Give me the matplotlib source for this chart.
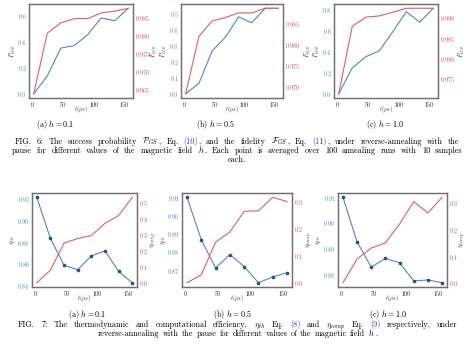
"""Reverse-annealing with pause: success probability / fidelity (FIG. 6)
and thermodynamic / computational efficiency (FIG. 7), three field values each.

Writes:
  out.png
"""
import matplotlib
matplotlib.use("Agg")
import matplotlib.pyplot as plt

plt.rcParams["font.family"] = ["cmr10", "DejaVu Serif"]
plt.rcParams["mathtext.fontset"] = "cm"
plt.rcParams["axes.formatter.use_mathtext"] = True

W, H = 474, 349

# ---------------------------------------------------------------------------
# data
# ---------------------------------------------------------------------------
t_us = [2, 24, 46, 68, 90, 112, 134, 156]
h_values = ["0.1", "0.5", "1.0"]

p_gs_h01 = [0.0, 0.136, 0.352, 0.371, 0.456, 0.584, 0.563, 0.659]
p_gs_h05 = [0.0, 0.064, 0.265, 0.350, 0.477, 0.440, 0.530, 0.530]
p_gs_h10 = [0.0, 0.244, 0.352, 0.408, 0.589, 0.780, 0.681, 0.813]

f_gs_h01 = [0.9637, 0.9807, 0.9836, 0.9848, 0.9848, 0.9864, 0.9869, 0.9877]
f_gs_h05 = [0.9683, 0.9819, 0.9856, 0.9864, 0.9875, 0.9875, 0.9886, 0.9886]
f_gs_h10 = [0.9712, 0.9879, 0.9902, 0.9905, 0.9914, 0.9924, 0.9924, 0.9924]

eta_th_h01 = [0.921, 0.8833, 0.8588, 0.8547, 0.8673, 0.8720, 0.8532, 0.8428]
eta_th_h05 = [0.910, 0.8867, 0.8711, 0.8785, 0.8719, 0.8630, 0.8662, 0.8685]
eta_th_h10 = [0.910, 0.8925, 0.8827, 0.8861, 0.8844, 0.8773, 0.8777, 0.8766]

eta_comp_h01 = [0.0, 0.078, 0.248, 0.276, 0.295, 0.371, 0.420, 0.534]
eta_comp_h05 = [0.0, 0.029, 0.150, 0.188, 0.264, 0.266, 0.316, 0.300]
eta_comp_h10 = [0.0, 0.089, 0.130, 0.149, 0.220, 0.304, 0.261, 0.320]

x_ticks = [0, 50, 100, 150]
p_ticks = [[0.0, 0.2, 0.4, 0.6], [0.0, 0.1, 0.2, 0.3, 0.4, 0.5], [0.0, 0.2, 0.4, 0.6, 0.8]]
f_ticks = [[0.965, 0.970, 0.975, 0.980, 0.985], [0.970, 0.975, 0.980, 0.985],
           [0.975, 0.980, 0.985, 0.990]]
th_ticks = [[0.84, 0.86, 0.88, 0.90, 0.92], [0.87, 0.88, 0.89, 0.90, 0.91],
            [0.88, 0.89, 0.90, 0.91]]
comp_ticks = [[0.0, 0.1, 0.2, 0.3, 0.4, 0.5], [0.0, 0.1, 0.2, 0.3], [0.0, 0.1, 0.2, 0.3]]

BLUE = "#5585c0"
BLUE_TXT = "#4f7fbd"
BLUE_MK = "#2d4f80"
RED = "#dc6064"
RED_TXT = "#d6494d"
LINK = "#3a3acf"
SPINE = "#707070"
TICK_FS = 4.3
LAB_FS = 5.0


def px_axes(fig, box):
    left, right, top, bottom = box
    return fig.add_axes([left / W, 1 - bottom / H, (right - left) / W, (bottom - top) / H])


def style_twin(fig, ax, ax2, box, yl, yr, lticks, rticks, lx, rx, xlab_y):
    left, right, top, bottom = box
    for a in (ax, ax2):
        for s in a.spines.values():
            s.set_color(SPINE)
            s.set_linewidth(0.9)
        a.tick_params(length=0, pad=1.6, labelsize=TICK_FS)
    ax.set_xticks(x_ticks)
    ax.tick_params(axis="x", colors="#222222")
    ax.set_yticks(lticks)
    ax.tick_params(axis="y", colors=BLUE_TXT)
    ax2.set_yticks(rticks)
    ax2.tick_params(axis="y", colors=RED_TXT)
    ymid = 1 - (top + bottom) / 2 / H
    fig.text((left + right) / 2 / W, 1 - xlab_y / H, r"$t(\mu s)$", fontsize=4.2,
             ha="center", va="center", color="#333333")
    fig.text(lx / W, ymid, yl, fontsize=LAB_FS, rotation=90,
             ha="center", va="center", color="#333333")
    fig.text(rx / W, ymid, yr, fontsize=LAB_FS, rotation=90,
             ha="center", va="center", color="#333333")


def draw_words(fig, words, y, x0, x1, size, justify=True):
    """Place a line of words (each a list of (text, colour) runs) between
    x0 and x1 pixels, stretching the gaps when justify is set."""
    r = fig.canvas.get_renderer()
    placed = []
    for word in words:
        runs = []
        for s, c in word:
            t = fig.text(0, 1 - y / H, s, color=c, fontsize=size, va="baseline")
            runs.append((t, t.get_window_extent(r).width + 0.4))
        placed.append(runs)
    widths = [sum(w for _, w in runs) for runs in placed]
    probe_a = fig.text(0, 0, "x x", fontsize=size)
    probe_b = fig.text(0, 0, "xx", fontsize=size)
    space = probe_a.get_window_extent(r).width - probe_b.get_window_extent(r).width
    probe_a.remove()
    probe_b.remove()
    if justify and len(placed) > 1:
        gap = (x1 - x0 - sum(widths)) / (len(placed) - 1)
        x = x0
    else:
        gap = space
        x = (x0 + x1) / 2 - (sum(widths) + gap * (len(placed) - 1)) / 2
    for runs, wd in zip(placed, widths):
        xr = x
        for t, w in runs:
            t.set_x(xr / W)
            xr += w
        x += wd + gap


def words_from(text, color="black"):
    return [[(w, color)] for w in text.split()]


fig = plt.figure(figsize=(W / 100, H / 100), dpi=100)

# ---------------------------------------------------------------------------
# FIG. 6 — P_GS (left axis) and F_GS (right axis)
# ---------------------------------------------------------------------------
top_boxes = [(29, 133, 4, 98), (181, 283, 4, 98), (334, 438, 4, 98)]
top_lab_x = [(13, 154), (164, 308), (317, 462)]
top_caps_x = [55, 215, 385]
p_series = [p_gs_h01, p_gs_h05, p_gs_h10]
f_series = [f_gs_h01, f_gs_h05, f_gs_h10]
for i, box in enumerate(top_boxes):
    ax = px_axes(fig, box)
    ax2 = ax.twinx()
    ax.plot(t_us, p_series[i], color=BLUE, lw=0.8)
    ax2.plot(t_us, f_series[i], color=RED, lw=0.8)
    style_twin(fig, ax, ax2, box, r"$P_{GS}$", r"$F_{GS}$", p_ticks[i], f_ticks[i],
               *top_lab_x[i], xlab_y=109)
    fig.text(top_caps_x[i] / W, 1 - 127 / H, "(%s) $h=%s$" % ("abc"[i], h_values[i]),
             fontsize=5.8, ha="center", va="baseline")

# ---------------------------------------------------------------------------
# FIG. 7 — eta_th (left axis) and eta_comp (right axis)
# ---------------------------------------------------------------------------
bot_boxes = [(32, 137, 193, 287), (182, 292, 193, 287), (338, 447, 193, 287)]
bot_lab_x = [(13, 153), (164, 309), (319, 462)]
bot_caps_x = [87, 232, 388]
th_series = [eta_th_h01, eta_th_h05, eta_th_h10]
comp_series = [eta_comp_h01, eta_comp_h05, eta_comp_h10]
for i, box in enumerate(bot_boxes):
    ax = px_axes(fig, box)
    ax2 = ax.twinx()
    ax.plot(t_us, th_series[i], color=BLUE, lw=0.8, marker="o", ms=1.6,
            mfc=BLUE_MK, mec=BLUE_MK)
    ax2.plot(t_us, comp_series[i], color=RED, lw=0.8)
    style_twin(fig, ax, ax2, box, r"$\eta_{th}$", r"$\eta_{comp}$", th_ticks[i],
               comp_ticks[i], *bot_lab_x[i], xlab_y=298)
    fig.text(bot_caps_x[i] / W, 1 - 317 / H, "(%s) $h=%s$" % ("abc"[i], h_values[i]),
             fontsize=5.8, ha="center", va="baseline")

# ---------------------------------------------------------------------------
# captions
# ---------------------------------------------------------------------------
CAP_FS = 5.9
fig6_l1 = (words_from("FIG. 6: The success probability")
           + [[(r"$\mathcal{P}_{GS}$", "black"), (",", "black")]]
           + words_from("Eq.") + [[("(10)", LINK), (",", "black")]]
           + words_from("and the fidelity")
           + [[(r"$\mathcal{F}_{GS}$", "black"), (",", "black")]]
           + words_from("Eq.") + [[("(11)", LINK), (",", "black")]]
           + words_from("under reverse-annealing with the"))
fig6_l2 = (words_from("pause for different values of the magnetic field")
           + [[(r"$h$", "black"), (".", "black")]]
           + words_from("Each point is averaged over 100 annealing runs with 10 samples"))
fig6_l3 = words_from("each.")
draw_words(fig, fig6_l1, 144, 15, 460, CAP_FS)
draw_words(fig, fig6_l2, 153, 12, 463, CAP_FS)
draw_words(fig, fig6_l3, 161.5, 12, 463, CAP_FS, justify=False)

fig7_l1 = (words_from("FIG. 7: The thermodynamic and computational efficiency,")
           + [[(r"$\eta_{th}$", "black")]] + words_from("Eq.") + [[("(8)", LINK)]]
           + words_from("and") + [[(r"$\eta_{comp}$", "black")]]
           + words_from("Eq.") + [[("(9)", LINK)]]
           + words_from("respectively, under"))
fig7_l2 = (words_from("reverse-annealing with the pause for different values of the magnetic field")
           + [[(r"$h$", "black"), (".", "black")]])
draw_words(fig, fig7_l1, 327, 18, 458, CAP_FS)
draw_words(fig, fig7_l2, 336.5, 18, 458, CAP_FS, justify=False)

fig.savefig("out.png", dpi=100)
